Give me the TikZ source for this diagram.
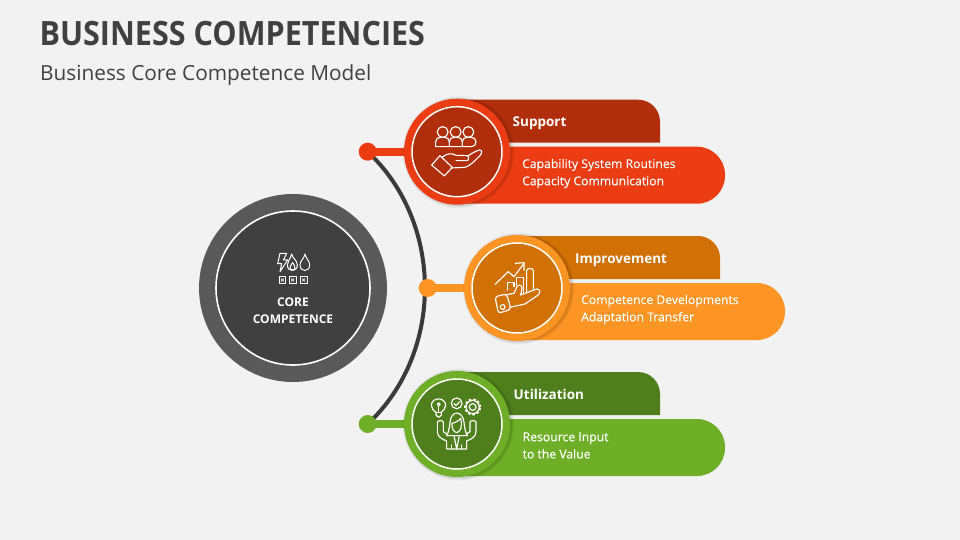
\documentclass[tikz,border=0pt]{standalone}
\usepackage{fontspec}
\setmainfont{Open Sans}
\newfontfamily\semif[FakeBold=0.25]{Open Sans}
\definecolor{bg}{HTML}{F2F2F2}
\definecolor{ink}{HTML}{404040}
\definecolor{ringgray}{HTML}{595959}
\definecolor{curve}{HTML}{3A3A3A}
\definecolor{redD}{HTML}{B02E0C}\definecolor{redL}{HTML}{EB3C13}
\definecolor{orD}{HTML}{D07005}\definecolor{orL}{HTML}{FD9524}
\definecolor{grD}{HTML}{4F7F1D}\definecolor{grL}{HTML}{6EAF27}
\tikzset{
 dotn/.style={circle,inner sep=0pt,minimum size=18pt},
 disc/.style={circle,inner sep=0pt,minimum size=106pt},
 ringn/.style={circle,inner sep=0pt,minimum size=90pt,draw=white,line width=1.5pt},
 head/.style={anchor=base west,inner sep=0pt,text=white,font=\fontsize{13.5}{16}\selectfont\bfseries},
 body/.style={anchor=west,text=white,align=left,font=\fontsize{12.2}{17.2}\selectfont\semif,inner sep=0pt},
 icon/.style={draw=white,line width=1.15pt,line join=round,line cap=round,fill=none},
}
% #1 name, #2 cx, #3 cy, #4 dark, #5 light, #6 dot x
\newcommand{\cardshapes}[6]{%
 \pgfmathsetmacro{\xa}{#2}\pgfmathsetmacro{\xb}{#2+203}\pgfmathsetmacro{\xc}{#2+268}
 \pgfmathsetmacro{\ya}{#3-52}\pgfmathsetmacro{\yb}{#3-9}\pgfmathsetmacro{\yc}{#3-5}\pgfmathsetmacro{\yd}{#3+52}
 \fill[#4] (\xa,\ya) [rounded corners=22pt] -- (\xb,\ya) [sharp corners] -- (\xb,\yb) -- (\xa,\yb) -- cycle;
 \fill[#5] (\xa,\yc) [rounded corners=28pt] -- (\xc,\yc) -- (\xc,\yd) [sharp corners] -- (\xa,\yd) -- cycle;
 \node[dotn,fill=#5] (#1dot) at (#6,#3) {};
 \coordinate (#1c) at (#2,#3);
 \draw[#5,line width=8pt] (#1dot.center) -- (#1c);
 \foreach \s/\o in {6/0.03,4/0.05,2/0.07}{
   \fill[black,opacity=\o] (#2+1.5,#3+0.5) circle[radius=53+\s/2];}
 \node[disc,fill=#5] (#1disc) at (#2,#3) {};
 \node[ringn,fill=#4] (#1ring) at (#2,#3) {};
}
\begin{document}
\begin{tikzpicture}[x=1pt,y=-1pt]
\useasboundingbox (0,0) rectangle (960,540);
\fill[bg] (0,0) rectangle (960,540);

\node[anchor=base west,inner sep=0pt,text=ink,font=\fontsize{33.5}{36}\selectfont\bfseries] (title) at (39.3,46) {\scalebox{0.912}[1]{BUSINESS COMPETENCIES}};
\node[anchor=base west,inner sep=0pt,text=ink,font=\fontsize{20.8}{24}\selectfont] (subtitle) at (40,81) {Business Core Competence Model};

% curve
\node[dotn] (p1) at (367.7,151.7) {};
\node[dotn] (p3) at (367.7,424) {};
\draw[curve,line width=4pt] (p1.center) .. controls (444,223) and (444,353) .. (p3.center);

% core circle
\node[circle,inner sep=0pt,minimum size=188pt,fill=ringgray] (core) at (293,288) {};
\node[circle,inner sep=0pt,minimum size=154pt,fill=ink,draw=white,line width=1.6pt] (corein) at (293,288) {};
\node[text=white,align=center,inner sep=0pt,font=\fontsize{12}{17}\selectfont\bfseries] (coret) at (293,310.5) {CORE\\COMPETENCE};

\cardshapes{s}{457}{151.7}{redD}{redL}{367.7}
\cardshapes{i}{517}{288}{orD}{orL}{427.7}
\cardshapes{u}{457}{424}{grD}{grL}{367.7}

\node[head] (sh) at (512.5,127) {Support};
\node[body] (sb) at (522,173.5) {Capability System Routines\\Capacity Communication};
\node[head] (ih) at (575,263) {Improvement};
\node[body] (ib) at (581,309.5) {Competence Developments\\Adaptation Transfer};
\node[head] (uh) at (513.5,399) {Utilization};
\node[body] (ub) at (522.5,445.5) {Resource Input\\to the Value};

% Support icon
\begin{scope}[shift={(350,90)},x=0.3333pt,y=-0.3333pt]
 \draw[icon] (278,126) circle[radius=5.4pt] (317,126) circle[radius=5.4pt] (355,126) circle[radius=5.4pt];
 \draw[icon,rounded corners=4.5pt] (257,170) -- (257,142) -- (298,142) -- (298,170);
 \draw[icon,rounded corners=4.5pt] (298,170) -- (298,142) -- (337,142) -- (337,170);
 \draw[icon,rounded corners=4.5pt] (337,170) -- (337,142) -- (378,142) -- (378,170) -- (257,170);
 \draw[icon] (245,225) -- (270,197) -- (307,232) -- (283,258) -- cycle;
 \draw[icon] (275,203) .. controls (290,190) and (305,188) .. (318,196) -- (355,197) .. controls (365,190) and (378,183) .. (388,180) .. controls (397,180) and (397,190) .. (392,195) .. controls (375,212) and (360,228) .. (345,232) -- (303,234);
 \draw[icon] (318,212) -- (350,212) .. controls (358,212) and (358,198) .. (350,197);
\end{scope}

% Improvement icon
\begin{scope}[shift={(410,230)},x=0.3333pt,y=-0.3333pt]
 \draw[icon] (255,163) -- (295,125) -- (312,140) -- (342,100);
 \draw[icon] (316,100) -- (342,98) -- (342,122);
 \draw[icon] (292,180) -- (292,158) -- (312,158) -- (312,170);
 \draw[icon] (320,165) -- (320,142) -- (340,142) -- (340,190);
 \draw[icon] (350,185) -- (350,122) .. controls (350,113) and (370,113) .. (370,122) -- (370,178);
 \draw[icon,rounded corners=3pt] (255,200) -- (290,192) -- (303,238) -- (265,250) -- cycle;
 \draw[icon] (278,231) circle[radius=2.4pt];
 \draw[icon] (290,194) -- (312,190) -- (322,168) .. controls (330,160) and (340,170) .. (335,182) -- (332,195) -- (380,177) .. controls (392,177) and (392,190) .. (382,197) -- (345,222) -- (300,232);
\end{scope}

% Utilization icon
\begin{scope}[shift={(350,365)},x=0.3333pt,y=-0.3333pt]
 \draw[icon] (258,142) .. controls (250,135) and (244,130) .. (244,122) .. controls (244,95) and (287,95) .. (287,122) .. controls (287,130) and (280,135) .. (274,142) -- cycle;
 \draw[icon] (258,142) -- (258,150) -- (264,156) -- (268,156) -- (274,150) -- (274,142);
 \draw[icon] (266,142) -- (266,122);
 \draw[icon] (266,118) circle[radius=1.5pt];
 \draw[icon] (320,115) circle[radius=5.4pt];
 \draw[icon] (312,115) -- (318,122) -- (329,110);
 \draw[icon] (368,126) circle[radius=3.4pt];
 \draw[icon,dash pattern=on 2.4pt off 1.9pt,line width=2.2pt,line cap=butt] (368,126) circle[radius=7.4pt];
 \draw[icon] (368,126) circle[radius=6.6pt];
 % person
 \draw[icon] (300,172) .. controls (303,135) and (338,135) .. (342,172) .. controls (344,190) and (346,200) .. (352,212) -- (290,212) .. controls (296,200) and (298,190) .. (300,172);
 \draw[icon] (306,175) .. controls (320,172) and (328,165) .. (332,160) .. controls (338,185) and (332,200) .. (320,203) .. controls (310,200) and (305,190) .. (306,175);
 \draw[icon] (262,172) -- (262,200) .. controls (262,215) and (275,222) .. (290,228) -- (290,252) -- (350,252) -- (350,228) .. controls (365,222) and (378,215) .. (378,200) -- (378,172);
 \draw[icon] (262,172) .. controls (262,165) and (280,165) .. (280,172) -- (280,200) -- (292,208);
 \draw[icon] (360,172) .. controls (360,165) and (378,165) .. (378,172);
 \draw[icon] (360,172) -- (360,200) -- (348,208);
 \draw[icon] (312,212) -- (320,252) -- (328,212);
 \draw[icon] (305,240) -- (305,252) (335,240) -- (335,252);
\end{scope}

% Core icon
\begin{scope}[shift={(240,240)},x=0.3333pt,y=-0.3333pt]
 \draw[icon,line width=1pt] (120,40) -- (140,40) -- (130,60) -- (143,60) -- (120,95) -- (125,71) -- (113,71) -- cycle;
 \draw[icon,line width=1pt] (155,42) .. controls (157,55) and (172,60) .. (172,75) .. controls (172,97) and (142,97) .. (142,75) .. controls (142,65) and (150,60) .. (155,42) -- cycle;
 \draw[icon,line width=1pt] (158,68) .. controls (160,74) and (166,76) .. (165,84) .. controls (163,92) and (150,92) .. (150,82) .. controls (150,76) and (156,74) .. (158,68) -- cycle;
 \draw[icon,line width=1pt] (195,42) .. controls (197,55) and (209,62) .. (209,75) .. controls (209,97) and (180,97) .. (180,75) .. controls (180,62) and (193,55) .. (195,42) -- cycle;
 \foreach \xx in {127,158,191}{
  \draw[icon,line width=0.9pt] (\xx-10,110) rectangle (\xx+10,130);
  \draw[icon,line width=0.7pt] (\xx-4,116) -- (\xx+4,124) (\xx-4,124) -- (\xx+4,116);
 }
\end{scope}
\end{tikzpicture}
\end{document}
